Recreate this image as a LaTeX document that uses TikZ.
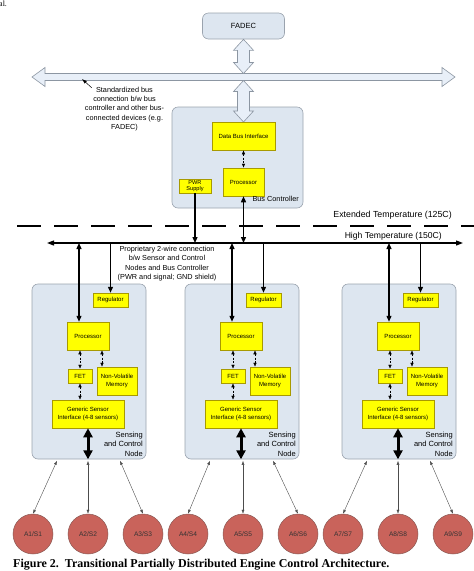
\documentclass[tikz,border=0pt]{standalone}
\usepackage{fontspec}
\setmainfont{Liberation Sans}
\newfontfamily\capfont{Liberation Serif}
\usepackage{tikz}
\usetikzlibrary{arrows.meta, positioning, calc}
\definecolor{NodeBlue}{HTML}{DDE6F0}
\definecolor{NodeEdge}{HTML}{9AA3AE}
\definecolor{BusFill}{HTML}{E8EFF8}
\definecolor{BusEdge}{HTML}{8C96A2}
\definecolor{ChipYellow}{HTML}{FFFF00}
\definecolor{ChipEdge}{HTML}{A89A00}
\definecolor{SensRed}{HTML}{C9635B}
\definecolor{SensEdge}{HTML}{8A5A55}

% hollow block arrows: vertical (top, bottom) and horizontal (left, right)
\newcommand{\vblockarrow}[2]{%
  \path[draw=BusEdge, fill=BusFill, line width=0.6pt]
    let \p1=(#1), \p2=(#2) in
    (\x1,\y1) -- (\x1+10pt,\y1-11pt) -- (\x1+6pt,\y1-11pt) --
    (\x1+6pt,\y2+11pt) -- (\x1+10pt,\y2+11pt) -- (\x1,\y2) --
    (\x1-10pt,\y2+11pt) -- (\x1-6pt,\y2+11pt) --
    (\x1-6pt,\y1-11pt) -- (\x1-10pt,\y1-11pt) -- cycle;}
\newcommand{\hblockarrow}[2]{%
  \path[draw=BusEdge, fill=BusFill, line width=0.6pt]
    let \p1=(#1), \p2=(#2) in
    (\x1,\y1) -- (\x1+13pt,\y1+9.5pt) -- (\x1+13pt,\y1+3.5pt) --
    (\x2-13pt,\y1+3.5pt) -- (\x2-13pt,\y1+9.5pt) -- (\x2,\y1) --
    (\x2-13pt,\y1-9.5pt) -- (\x2-13pt,\y1-3.5pt) --
    (\x1+13pt,\y1-3.5pt) -- (\x1+13pt,\y1-9.5pt) -- cycle;}

\begin{document}
\begin{tikzpicture}[
    x=1pt, y=-1pt,
    every node/.style={inner sep=0pt},
    ctrlbox/.style={rectangle, rounded corners=6pt, draw=NodeEdge,
                    line width=0.6pt, fill=NodeBlue},
    chip/.style={rectangle, draw=ChipEdge, line width=0.5pt, fill=ChipYellow,
                 align=center, font=\fontsize{6}{7.5}\selectfont},
    sensor/.style={circle, draw=SensEdge, line width=0.5pt, fill=SensRed,
                   minimum size=40pt, text=black!80,
                   font=\fontsize{6.6}{8}\selectfont},
    note/.style={align=center, font=\fontsize{7.3}{9.3}\selectfont},
    pwr/.style={line width=1.3pt, -{Triangle[length=6pt,width=5pt]}},
    sig/.style={line width=1.3pt,
                {Triangle[length=6pt,width=5pt]}-{Triangle[length=6pt,width=5pt]}},
    link/.style={dash pattern=on 2pt off 1.5pt, line width=0.45pt,
                 {Latex[length=4pt,width=3.5pt]}-{Latex[length=4pt,width=3.5pt]}},
    io/.style={line width=0.4pt, draw=black!70,
               {Latex[length=4pt,width=3pt]}-{Latex[length=4pt,width=3pt]}},
    fat/.style={line width=3pt,
                {Triangle[length=9pt,width=9pt]}-{Triangle[length=9pt,width=9pt]}}
]
\useasboundingbox (0,0) rectangle (474,571);

\node[font=\capfont\fontsize{8}{9}\selectfont, anchor=base west] (cut) at (-1,6) {al.};

% --- FADEC and standard bus ---------------------------------------------
\node[ctrlbox, minimum width=82pt, minimum height=26pt,
      font=\fontsize{7.5}{9}\selectfont] (fadec) at (243.5,26) {FADEC};
\coordinate (extL) at (32,77);
\coordinate (extR) at (455,77);
\coordinate (busTop) at (243.5,73.5);
\coordinate (busBot) at (243.5,80.5);
\hblockarrow{extL}{extR}
\vblockarrow{fadec.south}{busTop}

\node[note] (busnote) at (124.5,109)
  {Standardized bus\\connection b/w bus\\controller and other bus-\\connected devices (e.g.\\FADEC)};
\coordinate (busnotetip) at (82,79);
\draw[line width=0.5pt, -{Latex[length=5pt,width=3.5pt]}]
  ([xshift=7pt,yshift=-1pt]busnote.north west) -- (busnotetip);

% --- Bus controller -----------------------------------------------------
\node[ctrlbox, minimum width=131pt, minimum height=101pt] (bc) at (237.5,157.5) {};
\vblockarrow{busBot}{243.5,122}
\node[chip, minimum width=63pt, minimum height=28pt] (dbi)    at (243.5,136) {Data Bus Interface};
\node[chip, minimum width=41pt, minimum height=28pt] (bcproc) at (243.5,182) {Processor};
\node[chip, minimum width=32pt, minimum height=14pt,
      font=\fontsize{5.6}{6.2}\selectfont]           (psu)    at (195,186)   {PWR\\Supply};
\node[font=\fontsize{7.3}{9}\selectfont, anchor=base east] (bclabel) at (299,201.5) {Bus Controller};
\draw[link] (dbi.south) -- (bcproc.north);

% --- Temperature zones --------------------------------------------------
\coordinate (zoneL) at (17,226);
\coordinate (zoneR) at (474,226);
\draw[line width=2.6pt, dash pattern=on 24pt off 13pt] (zoneL) -- (zoneR);
\node[font=\fontsize{8.8}{10}\selectfont, anchor=east] (extT)  at (452,215) {Extended Temperature (125C)};
\node[font=\fontsize{8.6}{10}\selectfont, anchor=east] (highT) at (442,236) {High Temperature (150C)};

% --- Proprietary bus ----------------------------------------------------
\coordinate (busL) at (47,243);
\coordinate (busR) at (463,243);
\draw[line width=1.2pt,
      {Triangle[length=7pt,width=5pt]}-{Triangle[length=7pt,width=5pt]}] (busL) -- (busR);
\draw[pwr] (psu.south) -- (psu.south |- busL);
\draw[sig] (bcproc.south) -- (bcproc.south |- busL);
\node[note] (wirenote) at (167,263.5)
  {Proprietary 2-wire connection\\b/w Sensor and Control\\Nodes and Bus Controller\\(PWR and signal; GND shield)};

% --- Sensing and control nodes ------------------------------------------
\foreach \i/\dx in {1/0, 2/153, 3/310} {
  \node[ctrlbox, minimum width=114pt, minimum height=175pt] (box\i) at (89+\dx,371.5) {};
  \node[chip, minimum width=35pt, minimum height=14pt] (reg\i)  at (110.5+\dx,300) {Regulator};
  \node[chip, minimum width=42pt, minimum height=28pt] (proc\i) at (88+\dx,336)    {Processor};
  \node[chip, minimum width=24pt, minimum height=14pt] (fet\i)  at (80+\dx,376)    {FET};
  \node[chip, minimum width=40pt, minimum height=28pt] (nvm\i)  at (117+\dx,381)   {Non-Volatile\\Memory};
  \node[chip, minimum width=72pt, minimum height=28pt] (gsi\i)  at (88+\dx,414)    {Generic Sensor\\Interface (4-8 sensors)};
  \node[font=\fontsize{7.5}{9.2}\selectfont, align=right, anchor=north east]
       (lbl\i) at (143+\dx,432) {Sensing\\and Control\\Node};
  \draw[sig]  ([xshift=-9pt]proc\i.north |- busL) -- ([xshift=-9pt]proc\i.north);
  \draw[pwr]  (reg\i.north |- busL) -- (reg\i.north);
  \draw[link] (fet\i.north |- proc\i.south) -- (fet\i.north);
  \draw[link] ([xshift=-15pt]nvm\i.north |- proc\i.south) -- ([xshift=-15pt]nvm\i.north);
  \draw[link] (fet\i.south) -- (fet\i.south |- gsi\i.north);
  \draw[fat]  (gsi\i.south) -- (gsi\i.south |- box\i.south);
}

% --- Actuators / sensors ------------------------------------------------
\foreach \k/\cx in {1/33, 2/88, 3/143, 4/188, 5/243, 6/298, 7/343, 8/398, 9/453}
  \node[sensor] (s\k) at (\cx,534) {A\k/S\k};

\foreach \i/\a/\b/\c in {1/1/2/3, 2/4/5/6, 3/7/8/9} {
  \draw[io] ([xshift=-32pt,yshift=-1.5pt]box\i.south) -- (s\a.north);
  \draw[io] ([yshift=-1.5pt]s\b.north |- box\i.south) -- (s\b.north);
  \draw[io] ([xshift=31pt,yshift=-1.5pt]box\i.south) -- (s\c.north);
}

% --- Caption ------------------------------------------------------------
\node[font=\capfont\bfseries\fontsize{12}{14}\selectfont, anchor=base west]
  (caption) at (13,567.5) {Figure 2.\ \ Transitional Partially Distributed Engine Control Architecture.};
\end{tikzpicture}
\end{document}
